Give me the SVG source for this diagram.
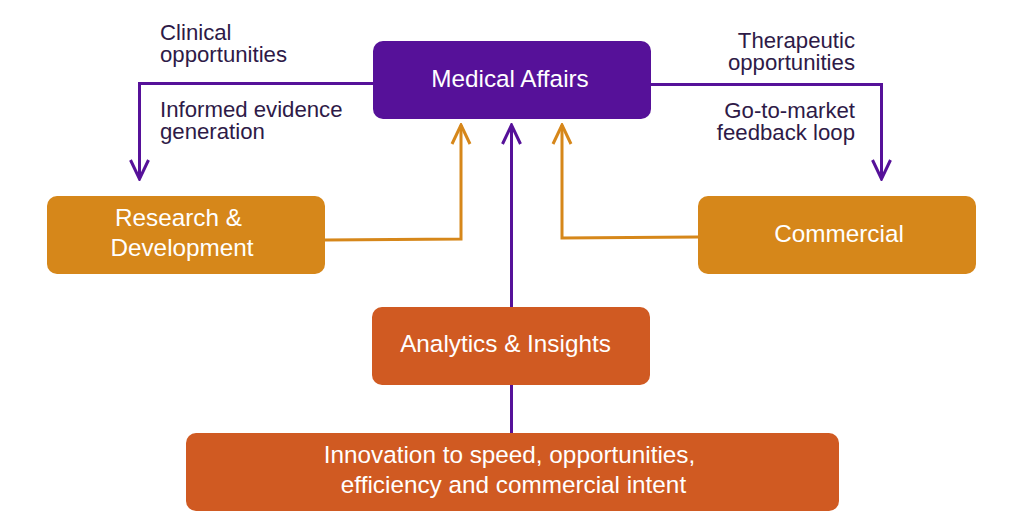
<svg xmlns="http://www.w3.org/2000/svg" width="1024" height="512" viewBox="0 0 1024 512">
<style>
.box-p{fill:#561199}
.box-o{fill:#D6871A}
.box-r{fill:#D05A22}
.bt{font-family:"Liberation Sans",Arial,sans-serif;font-size:24.3px;fill:#ffffff;text-anchor:middle}
.lbl{font-family:"Liberation Sans",Arial,sans-serif;font-size:22.2px;fill:#2E1A47}
.lp{fill:none;stroke:#561199;stroke-width:3}
.lo{fill:none;stroke:#D6871A;stroke-width:3}
</style>
<defs>
<marker id="ap" viewBox="0 0 22 22" refX="20" refY="11" markerWidth="22" markerHeight="22" markerUnits="userSpaceOnUse" orient="auto">
<path d="M1,2 L20,11 L1,20" fill="none" stroke="#561199" stroke-width="3"/>
</marker>
<marker id="ao" viewBox="0 0 22 22" refX="20" refY="11" markerWidth="22" markerHeight="22" markerUnits="userSpaceOnUse" orient="auto">
<path d="M1,2 L20,11 L1,20" fill="none" stroke="#D6871A" stroke-width="3"/>
</marker>
</defs>
<rect width="1024" height="512" fill="#ffffff"/>
<g id="connectors">
<path class="lp" d="M373,83.5 H139.5 V179" marker-end="url(#ap)"/>
<path class="lp" d="M651,84.5 H881.5 V179" marker-end="url(#ap)"/>
<path class="lo" d="M325,240 L461,239 V125" marker-end="url(#ao)"/>
<path class="lo" d="M698,237 L562,238 V125" marker-end="url(#ao)"/>
<path class="lp" d="M511.5,307 V125" marker-end="url(#ap)"/>
<path class="lp" d="M511.5,385 V433"/>
</g>
<g id="labels">
<text class="lbl" x="160" y="40">Clinical</text>
<text class="lbl" x="160" y="62">opportunities</text>
<text class="lbl" x="160" y="117">Informed evidence</text>
<text class="lbl" x="160" y="139">generation</text>
<text class="lbl" x="855" y="48" text-anchor="end">Therapeutic</text>
<text class="lbl" x="855" y="70" text-anchor="end">opportunities</text>
<text class="lbl" x="855" y="118" text-anchor="end">Go-to-market</text>
<text class="lbl" x="855" y="140" text-anchor="end">feedback loop</text>
</g>
<g id="medical-affairs">
<rect class="box-p" x="373" y="41" width="278" height="78" rx="10"/>
<text class="bt" x="510" y="87">Medical Affairs</text>
</g>
<g id="research-development">
<rect class="box-o" x="47" y="196" width="278" height="78" rx="10"/>
<text class="bt" x="178.5" y="226">Research &amp;</text>
<text class="bt" x="182" y="256">Development</text>
</g>
<g id="commercial">
<rect class="box-o" x="698" y="196" width="278" height="78" rx="10"/>
<text class="bt" x="839" y="242">Commercial</text>
</g>
<g id="analytics-insights">
<rect class="box-r" x="372" y="307" width="278" height="78" rx="10"/>
<text class="bt" x="505.5" y="352">Analytics &amp; Insights</text>
</g>
<g id="innovation">
<rect class="box-r" x="186" y="433" width="653" height="78" rx="10"/>
<text class="bt" x="509.5" y="463">Innovation to speed, opportunities,</text>
<text class="bt" x="513.5" y="493">efficiency and commercial intent</text>
</g>
</svg>
